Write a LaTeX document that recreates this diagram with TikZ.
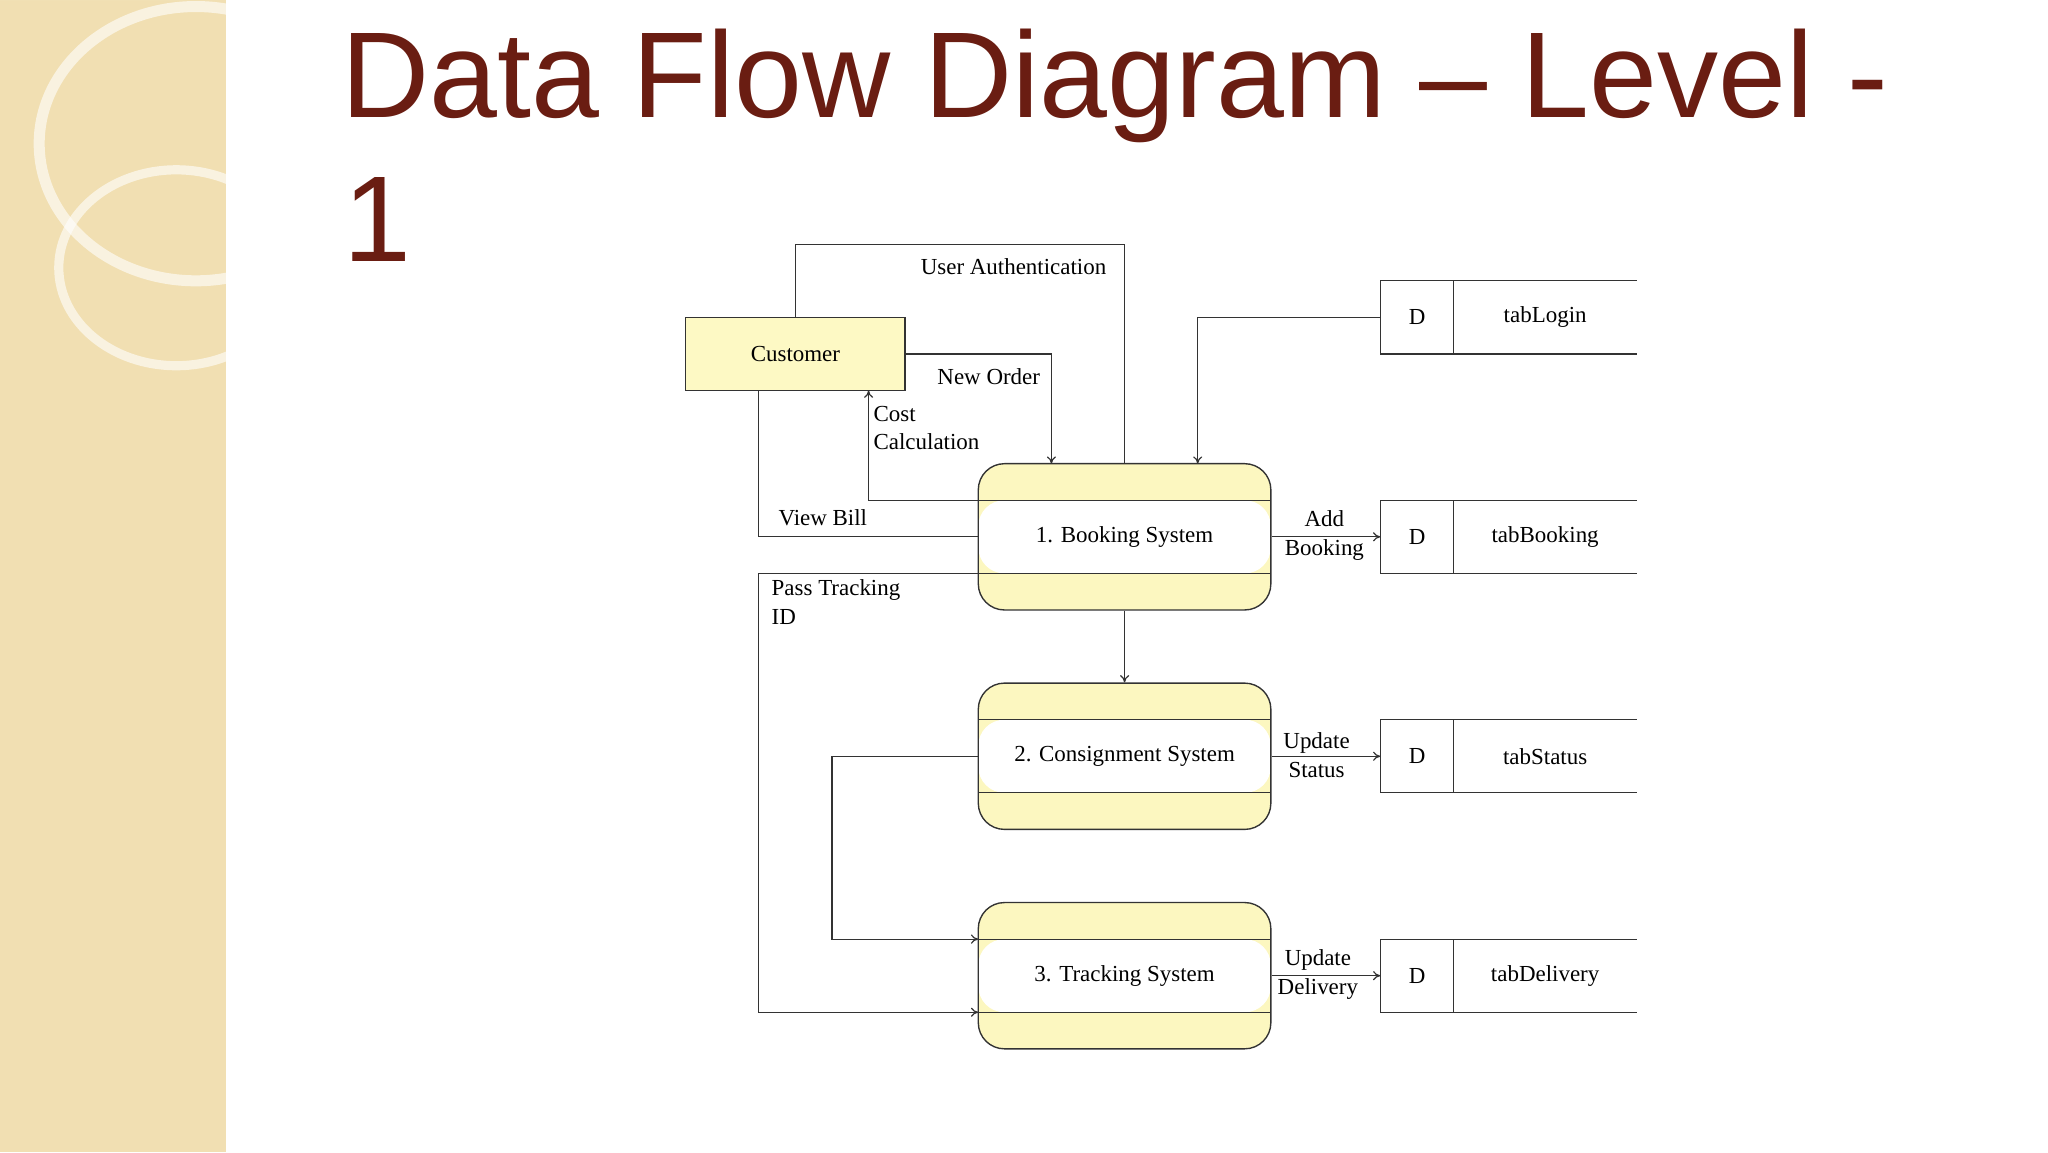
\documentclass[tikz,border=0pt]{standalone}
\usepackage{fontspec}
\setmainfont{Liberation Serif}
\newfontfamily\titlefont{Liberation Sans}
\usetikzlibrary{arrows.meta}
\definecolor{panel}{HTML}{F1DFB2}
\definecolor{titlec}{HTML}{6A1D12}
\definecolor{procy}{HTML}{FCF7C0}
\definecolor{custy}{HTML}{FDF9C4}
\definecolor{linec}{HTML}{333333}
\begin{document}
\begin{tikzpicture}[x=0.05cm,y=-0.05cm,
  txt/.style={font=\fontsize{25}{31}\selectfont, text=black},
  flow/.style={draw=linec, line width=1.3pt},
  arr/.style={flow,-{To[length=8pt,width=10pt]}},
  proc/.style={draw=linec, line width=1.5pt, rounded corners=1cm, minimum width=11.2cm, minimum height=5.6cm, inner sep=0pt, txt,
    path picture={\fill[procy] (path picture bounding box.south west) rectangle (path picture bounding box.north east);
      \fill[white] ([yshift=-1.4cm]path picture bounding box.north west) rectangle ([yshift=1.4cm]path picture bounding box.south east);
      \draw[linec,line width=1.3pt] ([yshift=-1.4cm]path picture bounding box.north west) -- ([yshift=-1.4cm]path picture bounding box.north east);
      \draw[linec,line width=1.3pt] ([yshift=1.4cm]path picture bounding box.south west) -- ([yshift=1.4cm]path picture bounding box.south east);}},
  store/.style={txt, minimum width=2.8cm, minimum height=2.8cm, inner sep=0pt},
  lab/.style={txt, inner sep=1pt, align=center}]
\useasboundingbox (0,0) rectangle (1568,882);
\fill[white] (0,0) rectangle (1568,882);
\fill[panel] (0,0) rectangle (173,882);
\draw[white, line width=12pt, opacity=0.6] (150,110) ellipse (120 and 105);
\draw[white, line width=10pt, opacity=0.6] (135,205) ellipse (90 and 75);
\fill[white, opacity=0.25] (0,0) -- (140,0) arc (0:-90:140 and 100) -- cycle;
% title
\node[anchor=base west, font=\titlefont\fontsize{133}{150}\selectfont, text=titlec, inner sep=0pt] (t1) at (261,90) {Data Flow Diagram – Level -};
\node[anchor=base west, font=\titlefont\fontsize{133}{150}\selectfont, text=titlec, inner sep=0pt] (t2) at (263,200) {1};
% nodes
\node[draw=linec, line width=1.5pt, fill=custy, minimum width=8.4cm, minimum height=2.8cm, txt] (cust) at (609,271) {Customer};
\node[proc] (p1) at (861,411) {1. Booking System};
\node[proc] (p2) at (861,579) {2. Consignment System};
\node[proc] (p3) at (861,747) {3. Tracking System};
\foreach \n/\y/\t in {L/243/tabLogin, B/411/tabBooking, S/579/tabStatus, D/747/tabDelivery}{
  \node[store] (d\n) at (1085,\y) {D};
  \node[store, minimum width=7cm] (t\n) at (1183,\y) {\t};
  \draw[flow] (1253,\y-28) -- (1057,\y-28) -- (1057,\y+28) -- (1253,\y+28);
  \draw[flow] (1113,\y-28) -- (1113,\y+28);
}
% connectors
\draw[flow] (cust.north) -- (609,187) -- (861,187) -- (p1.north);
\node[lab] (lua) at (776,204) {User Authentication};
\draw[arr] (cust.east) -- (805,271) -- (805,355);
\node[lab] (lno) at (757,288) {New Order};
\draw[arr] (749,383) -- (665,383) -- (665,299);
\node[lab, anchor=north west, align=left] (lcc) at (668,310) {Cost\\Calculation};
\draw[flow] (p1.west) -- (581,411) -- (581,299);
\node[lab] (lvb) at (630,396) {View Bill};
\draw[arr] (dL.west) -- (917,243) -- (917,355);
\draw[arr] (p1.east) -- (dB.west);
\node[lab] (lab1) at (1014,410) {Add\\Booking};
\draw[arr] (p1.south) -- (p2.north);
\draw[arr] (p2.east) -- (dS.west);
\node[lab] (lab2) at (1008,578) {Update\\Status};
\draw[arr] (p3.east) -- (dD.west);
\node[lab] (lab3) at (1009,746) {Update\\Delivery};
\draw[arr] (749,439) -- (581,439) -- (581,775) -- (749,775);
\node[lab, anchor=north west, align=left] (lpt) at (590,443) {Pass Tracking\\ID};
\draw[arr] (p2.west) -- (637,579) -- (637,719) -- (749,719);
\end{tikzpicture}
\end{document}
